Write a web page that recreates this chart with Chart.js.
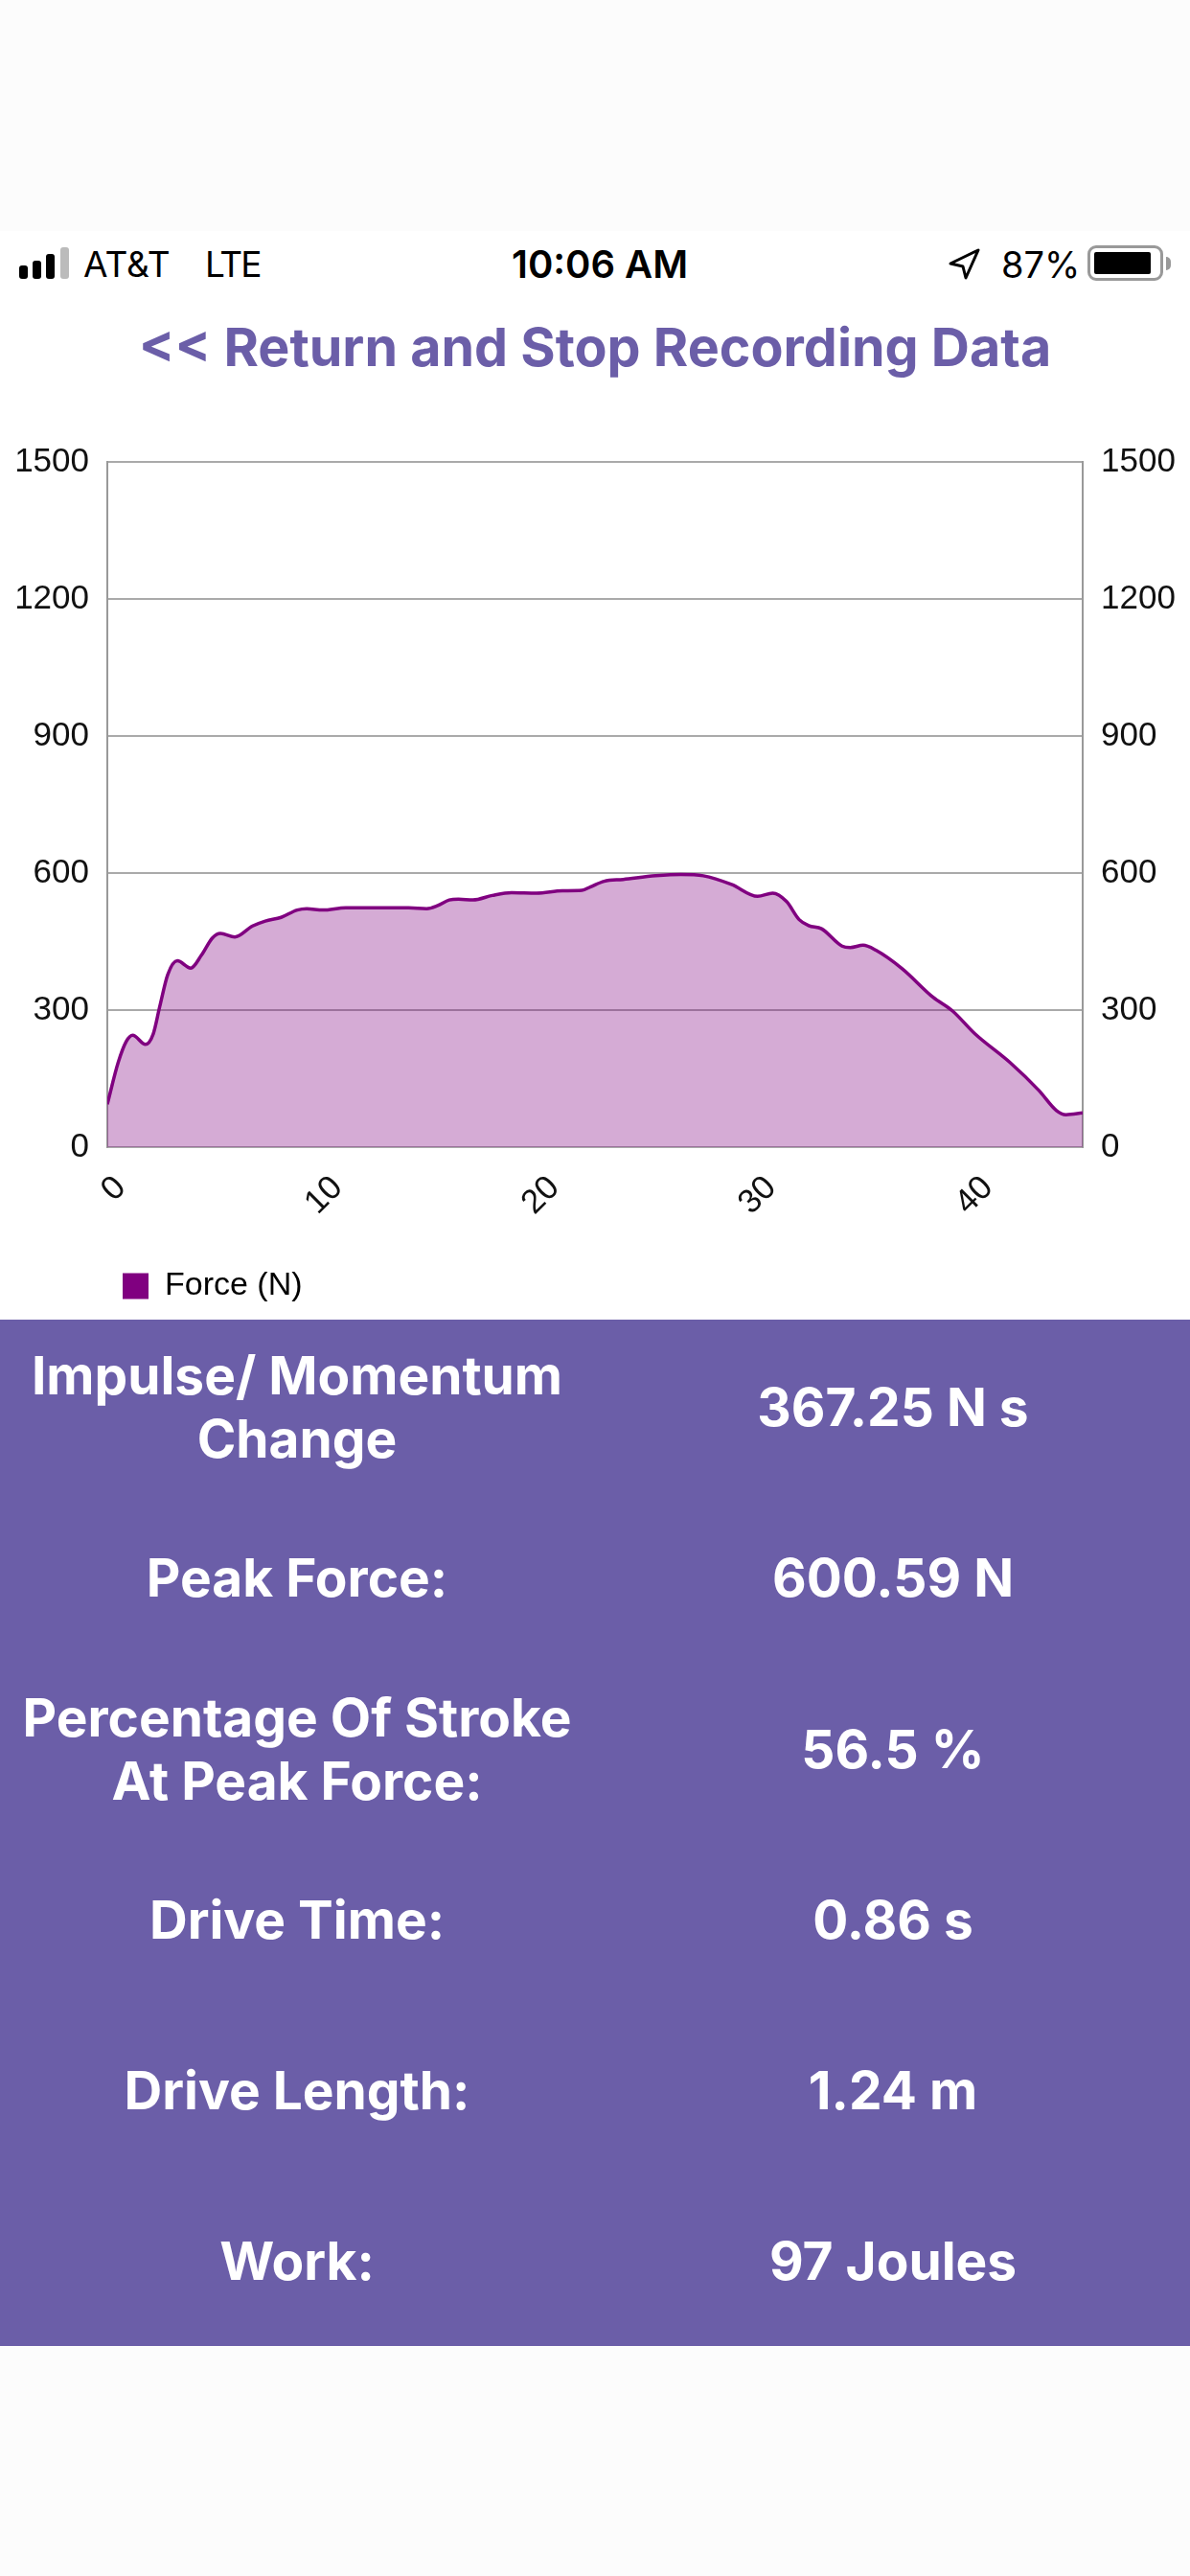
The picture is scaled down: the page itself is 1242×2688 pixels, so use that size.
<!doctype html>
<html lang="en">
<head>
    <meta charset="utf-8">
    <title>Force (N)</title>
    <script src="https://cdn.jsdelivr.net/npm/chart.js@4"></script>
    <style>
        html, body { margin: 0; padding: 0; background: #fcfcfc; }
        #page { position: relative; width: 1242px; height: 2688px; overflow: hidden; }
        #white { position: absolute; left: 0; top: 241px; width: 1242px; height: 1136px; background: #fff; }
        #panel { position: absolute; left: 0; top: 1377px; width: 1242px; height: 1071px; background: #6b5ea8; }
        #myChart { position: absolute; left: 0; top: 241px; }
        .t { position: absolute; white-space: pre; font-family: Inter, sans-serif; }
        .stat { color: #fff; font-weight: 700; font-size: 55px; line-height: 66px; text-align: center; white-space: pre-line; }
        .lbl { left: 0; width: 620px; }
        .val { left: 622px; width: 620px; }
        .bar { position: absolute; width: 9px; bottom: 2397px; background: #000; border-radius: 3px; }
        .status { color: #000; font-size: 37px; line-height: 44px; top: 254px; font-family: Inter, sans-serif; }
    </style>
</head>
<body>
<div id="page">
    <div id="white"></div>
    <div class="bar" style="left:20px;height:14px"></div>
    <div class="bar" style="left:34px;height:19px"></div>
    <div class="bar" style="left:48px;height:26px"></div>
    <div class="bar" style="left:63px;height:33px;background:#bbb"></div>
    <div class="t status" style="left:87px">AT&amp;T</div>
    <div class="t status" style="left:214px;letter-spacing:-2px">LTE</div>
    <div class="t status" style="left:534px;font-weight:600;font-size:40px">10:06 AM</div>
    <svg style="position:absolute;left:990px;top:259px" width="34" height="34" viewBox="0 0 34 34">
        <path d="M2 16 L31 2 L18 31 L15 19 Z" fill="none" stroke="#000" stroke-width="3" stroke-linejoin="round"/>
    </svg>
    <div class="t status" style="left:1045px;font-size:38px">87%</div>
    <div style="position:absolute;left:1135px;top:256px;width:73px;height:31px;border:3px solid #999;border-radius:9px"></div>
    <div style="position:absolute;left:1142px;top:263px;width:59px;height:23px;background:#000;border-radius:2px"></div>
    <div style="position:absolute;left:1217px;top:268px;width:5px;height:14px;background:#999;border-radius:0 5px 5px 0"></div>

    <div class="t" style="left:0;width:1242px;text-align:center;top:329px;font-weight:700;font-size:55.6px;line-height:66px;color:#6b5ea8">&lt;&lt; Return and Stop Recording Data</div>

    <canvas id="myChart" width="1242" height="1136"></canvas>

    <div id="panel"></div>
    <div class="t stat lbl" style="top:1402px">Impulse/ Momentum
Change</div>
    <div class="t stat val" style="top:1435px">367.25 N s</div>
    <div class="t stat lbl" style="top:1613px">Peak Force:</div>
    <div class="t stat val" style="top:1613px">600.59 N</div>
    <div class="t stat lbl" style="top:1759px">Percentage Of Stroke
At Peak Force:</div>
    <div class="t stat val" style="top:1792px">56.5 %</div>
    <div class="t stat lbl" style="top:1970px">Drive Time:</div>
    <div class="t stat val" style="top:1970px">0.86 s</div>
    <div class="t stat lbl" style="top:2148px">Drive Length:</div>
    <div class="t stat val" style="top:2148px">1.24 m</div>
    <div class="t stat lbl" style="top:2326px">Work:</div>
    <div class="t stat val" style="top:2326px">97 Joules</div>
</div>
<script type="text/javascript">
    const sampleTimes = [0, 0.5, 0.87, 1.17, 1.76, 2.12, 2.42, 2.79, 3.23, 3.85,
        4.34, 4.85, 5.22, 5.88, 6.7, 7.29, 8.02, 8.76, 9.2, 9.94,
        11, 13.9, 14.73, 15.25, 15.77, 16.2, 16.87, 17.76, 18.65, 19.8,
        21, 21.9, 22.3, 22.92, 23.8, 25.3, 26.46, 27.5, 28.8, 30,
        30.7, 31.33, 31.92, 32.36, 32.95, 33.9, 34.28, 34.87, 35.46, 36.66,
        38.1, 39, 40.03, 41.65, 42.98, 43.79, 44.23, 45]
    const forceValues = [94, 185, 231, 245, 225, 248, 308, 378, 408, 392,
        420, 458, 468, 460, 484, 495, 503, 519, 522, 519,
        524, 524, 522, 529, 541, 543, 541, 551, 557, 556,
        561, 562, 570, 582, 586, 594, 597, 594, 575, 549,
        556, 538, 498, 485, 478, 440, 437, 442, 431, 391,
        328, 298, 248, 185, 124, 80, 71, 75]
    const seriesName = 'Force (N)'

    const labelFont = {family: '"Liberation Sans", Arial, sans-serif', size: 35}
    const gridGray = '#aaa'
    const yLabel = (v) => String(v)

    // legend sits under the plot, indented past the axis
    const moveLegend = {
        id: 'moveLegend',
        afterLayout(chart) {
            chart.legend.left = 128
            chart.legend.top = 1084
        }
    }

    new Chart(document.getElementById('myChart'), {
        type: 'line',
        data: {
            datasets: [{
                label: seriesName,
                data: sampleTimes.map((x, i) => ({x: x, y: forceValues[i]})),
                borderColor: '#800080',
                backgroundColor: 'rgba(128, 0, 128, 0.33)',
                borderWidth: 3.5,
                pointRadius: 0,
                cubicInterpolationMode: 'monotone',
                fill: 'origin'
            }]
        },
        options: {
            responsive: false,
            animation: false,
            devicePixelRatio: 1,
            layout: {padding: {top: 241}},
            plugins: {
                tooltip: {enabled: false},
                legend: {
                    position: 'bottom',
                    align: 'start',
                    labels: {
                        boxWidth: 27,
                        boxHeight: 27,
                        padding: 0,
                        color: '#222',
                        font: {family: labelFont.family, size: 34},
                        generateLabels: () => [{text: seriesName, fillStyle: '#800080', strokeStyle: '#800080', lineWidth: 0}]
                    }
                }
            },
            scales: {
                x: {
                    type: 'linear',
                    min: 0,
                    max: 45,
                    grid: {display: false},
                    border: {color: gridGray, width: 2},
                    afterFit(scale) {
                        scale.height = 180 - scale.chart.legend.height
                    },
                    ticks: {
                        stepSize: 10,
                        includeBounds: false,
                        autoSkip: false,
                        minRotation: 45,
                        maxRotation: 45,
                        labelOffset: 14,
                        padding: 14,
                        color: '#111',
                        font: labelFont
                    }
                },
                y: {
                    min: 0,
                    max: 1500,
                    afterFit(scale) {
                        scale.width = 112
                    },
                    grid: {color: gridGray, lineWidth: 2, drawTicks: false},
                    border: {color: '#999', width: 2},
                    ticks: {stepSize: 300, padding: 19, color: '#111', font: labelFont, callback: yLabel}
                },
                y2: {
                    position: 'right',
                    min: 0,
                    max: 1500,
                    afterFit(scale) {
                        scale.width = 112
                    },
                    grid: {display: false, drawTicks: false},
                    border: {color: '#999', width: 2},
                    ticks: {stepSize: 300, padding: 19, color: '#111', font: labelFont, callback: yLabel}
                }
            }
        },
        plugins: [moveLegend]
    })
</script>
</body>
</html>
